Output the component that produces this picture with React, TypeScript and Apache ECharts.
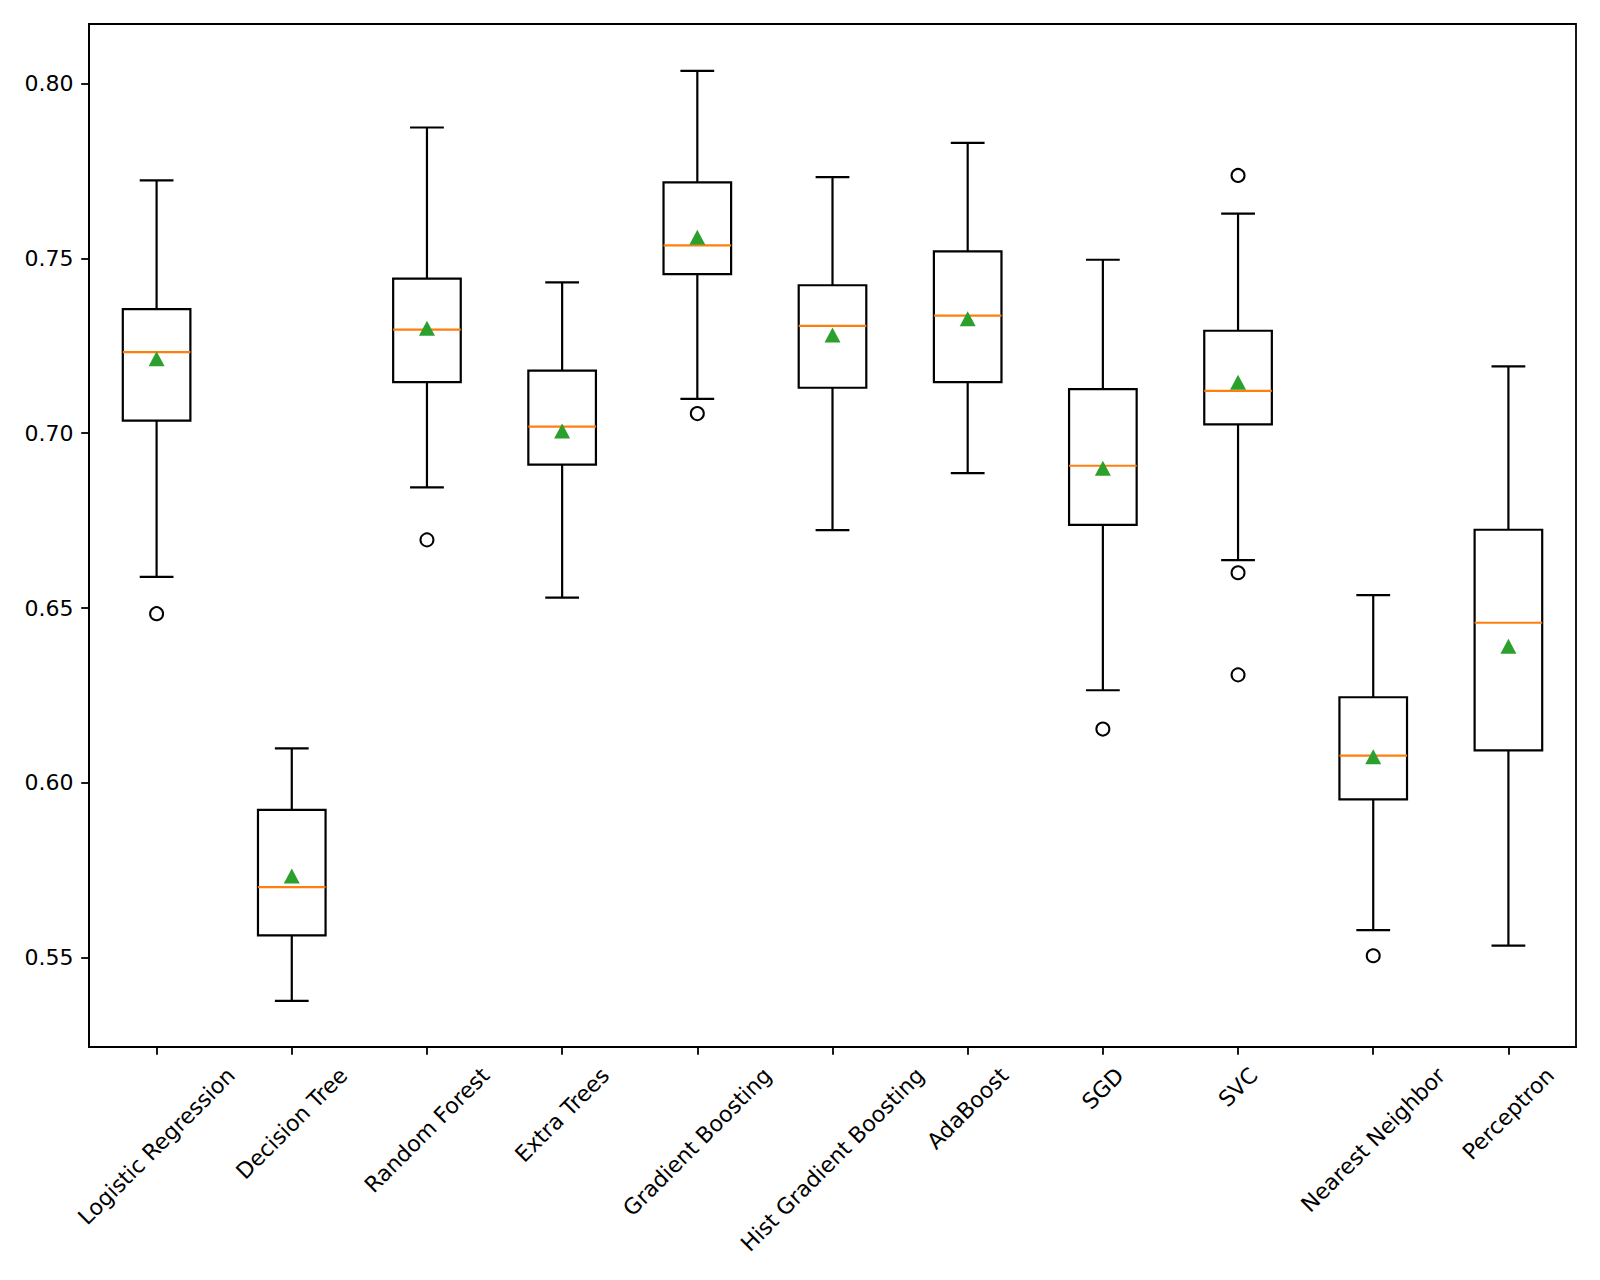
import React, { useEffect, useRef } from 'react';
import * as echarts from 'echarts';

const categories = [
  'Logistic Regression',
  'Decision Tree',
  'Random Forest',
  'Extra Trees',
  'Gradient Boosting',
  'Hist Gradient Boosting',
  'AdaBoost',
  'SGD',
  'SVC',
  'Nearest Neighbor',
  'Perceptron',
];
const whiskerLow = [0.6589, 0.5377, 0.6845, 0.653, 0.7098, 0.6723, 0.6886, 0.6265, 0.6637, 0.5579, 0.5535];
const q1 = [0.7036, 0.5564, 0.7146, 0.691, 0.7455, 0.713, 0.7146, 0.6738, 0.7025, 0.5953, 0.6093];
const medians = [0.7232, 0.5702, 0.7296, 0.7019, 0.7537, 0.7307, 0.7336, 0.6907, 0.7121, 0.6078, 0.6458];
const q3 = [0.7355, 0.5923, 0.7442, 0.7179, 0.7717, 0.7423, 0.752, 0.7126, 0.7293, 0.6245, 0.6724];
const whiskerHigh = [0.7723, 0.6099, 0.7874, 0.7431, 0.8036, 0.7732, 0.783, 0.7496, 0.7628, 0.6537, 0.7191];
const means = [0.7213, 0.5734, 0.73, 0.7006, 0.756, 0.7281, 0.7327, 0.69, 0.7146, 0.6075, 0.6391];
const outliers: [string, number][] = [
  ['Logistic Regression', 0.6484],
  ['Random Forest', 0.6695],
  ['Gradient Boosting', 0.7056],
  ['SGD', 0.6154],
  ['SVC', 0.7737],
  ['SVC', 0.6601],
  ['SVC', 0.6309],
  ['Nearest Neighbor', 0.5506],
];
const yMin = 0.5245;
const yMax = 0.817;

const FONT = '"DejaVu Sans"';
const FONT_SIZE = 22;

// width of a label so the rotated text can be centred under its tick, as matplotlib does
const textWidth = (s: string) => {
  const ctx = document.createElement('canvas').getContext('2d');
  if (!ctx) return s.length * 12;
  ctx.font = `${FONT_SIZE}px ${FONT}`;
  return ctx.measureText(s).width;
};

const App: React.FC = () => {
  const chartRef = useRef<HTMLDivElement>(null);

  useEffect(() => {
    document.body.style.margin = '0';
    if (!chartRef.current) return;
    const chart = echarts.init(chartRef.current, undefined, { renderer: 'svg' });

    // right padding slides the text back along itself, lineHeight pushes it down:
    // together they put the centre of each rotated label straight below its tick
    const xData = categories.map((c) => {
      const p = (textWidth(c) + FONT_SIZE * 1.164) / 2;
      return {
        value: c,
        textStyle: { padding: [0, p, 0, 0], lineHeight: p, align: 'center', verticalAlign: 'top' },
      };
    });

    const boxData = categories.map((_, i) => [i, whiskerLow[i], q1[i], medians[i], q3[i], whiskerHigh[i]]);

    const options = {
      animation: false,
      textStyle: { fontFamily: FONT },
      grid: {
        left: 89,
        right: 24,
        top: 24,
        bottom: 233,
        outerBoundsMode: 'none',
        containLabel: false,
        show: true,
        borderColor: '#000',
        borderWidth: 1.8,
        backgroundColor: 'transparent',
      },
      xAxis: {
        type: 'category',
        data: xData,
        boundaryGap: true,
        axisLine: { show: true, lineStyle: { color: '#000', width: 1.8 } },
        axisTick: { show: true, alignWithLabel: true, length: 7.8, lineStyle: { color: '#000', width: 1.8 } },
        axisLabel: {
          interval: 0,
          rotate: 45,
          margin: 15.6,
          fontSize: FONT_SIZE,
          color: '#000',
          fontFamily: FONT,
          align: 'center',
          verticalAlign: 'top',
        },
        splitLine: { show: false },
      },
      yAxis: {
        type: 'value',
        min: yMin,
        max: yMax,
        splitNumber: 5,
        axisLine: { show: true, lineStyle: { color: '#000', width: 1.8 } },
        axisTick: { show: true, length: 7.8, lineStyle: { color: '#000', width: 1.8 } },
        axisLabel: {
          fontSize: FONT_SIZE,
          color: '#000',
          fontFamily: FONT,
          margin: 15.6,
          showMinLabel: false,
          showMaxLabel: false,
          formatter: (v: number) => v.toFixed(2),
        },
        splitLine: { show: false },
      },
      series: [
        {
          type: 'custom',
          data: boxData,
          encode: { x: 0, y: [1, 2, 3, 4, 5] },
          renderItem: (params: any, api: any) => {
            const i = api.value(0);
            const [x, yLow] = api.coord([i, api.value(1)]);
            const yQ1 = api.coord([i, api.value(2)])[1];
            const yMed = api.coord([i, api.value(3)])[1];
            const yQ3 = api.coord([i, api.value(4)])[1];
            const yHigh = api.coord([i, api.value(5)])[1];
            const bw = api.size([1, 0])[0] * 0.5;
            const cw = bw / 2;
            const black = { stroke: '#000', lineWidth: 2.2, fill: null };
            return {
              type: 'group',
              children: [
                { type: 'line', shape: { x1: x, y1: yLow, x2: x, y2: yQ1 }, style: black },
                { type: 'line', shape: { x1: x, y1: yQ3, x2: x, y2: yHigh }, style: black },
                { type: 'line', shape: { x1: x - cw / 2, y1: yLow, x2: x + cw / 2, y2: yLow }, style: black },
                { type: 'line', shape: { x1: x - cw / 2, y1: yHigh, x2: x + cw / 2, y2: yHigh }, style: black },
                { type: 'rect', shape: { x: x - bw / 2, y: yQ3, width: bw, height: yQ1 - yQ3 }, style: black },
                {
                  type: 'line',
                  shape: { x1: x - bw / 2, y1: yMed, x2: x + bw / 2, y2: yMed },
                  style: { stroke: '#ff7f0e', lineWidth: 2.2 },
                },
              ],
            };
          },
        },
        {
          type: 'scatter',
          data: outliers.map(([c, v]) => [categories.indexOf(c), v]),
          symbol: 'emptyCircle',
          symbolSize: 13,
          itemStyle: { color: '#000', borderColor: '#000', borderWidth: 2.2, opacity: 1 },
          z: 3,
        },
        {
          type: 'scatter',
          data: means.map((m, i) => [i, m]),
          symbol: 'triangle',
          symbolSize: [16, 15],
          itemStyle: { color: '#2ca02c', opacity: 1 },
          z: 4,
        },
      ],
    };
    chart.setOption(options as any);

    return () => {
      chart.dispose();
    };
  }, []);

  return <div ref={chartRef} style={{ width: '1600px', height: '1280px' }} />;
};

export default App;
